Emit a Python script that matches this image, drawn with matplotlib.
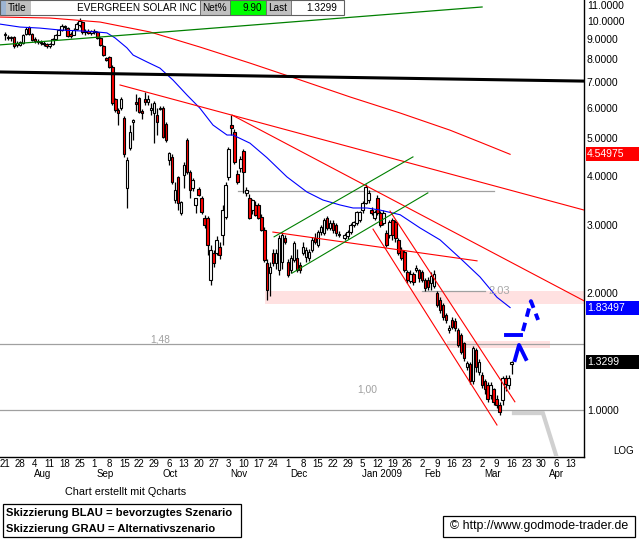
import numpy as np
import matplotlib
matplotlib.use('Agg')
import matplotlib.pyplot as plt
from matplotlib.patches import Rectangle
from matplotlib.transforms import IdentityTransform, blended_transform_factory

plt.rcParams['font.family'] = ['Liberation Sans', 'DejaVu Sans']
nan = np.nan

# ---------------- data (daily candles, index = weekday number from Mon 21 Jul 2008) ----------------
opens = [
9.20, 9.10, 9.05, 9.10, 8.70, 8.70, 8.80, 9.30, 9.65, 9.30,
9.00, 8.90, 8.85, 8.80, 8.75, 8.65, 8.75, 9.00, 9.25, 9.50,
9.70, 9.60, 9.30, 9.25, 9.55, 9.80, 9.95, 9.40, 9.45, 9.35,
9.45, 9.40, 9.05, 8.65, 8.05, 8.10, 7.63, 6.30, 5.90, 5.98,
5.64, 3.72, 4.72, 5.50, 6.20, 6.35, 5.88, 6.30, 6.22, 5.92,
5.81, 5.74, 5.95, 5.98, 5.45, 4.40, 4.48, 3.47, 3.98, 3.21,
4.03, 4.95, 4.10, 3.72, 3.37, 3.70, 3.51, 3.12, 3.12, 2.16,
2.53, 2.53, 2.63, 2.82, 3.13, 3.98, 5.41, 5.20, 4.05, 4.20,
4.63, 3.62, 3.51, 3.27, 3.37, 3.37, 3.14, 2.90, 2.39, 2.25,
2.53, 2.39, 2.29, 2.40, 2.77, 2.40, 2.29, 2.43, 2.46, 2.36,
2.53, 2.48, 2.46, 2.58, 2.77, 2.66, 2.87, 2.85, 3.12, 2.94,
3.03, 2.99, 2.82, nan, 2.77, 2.80, 2.87, 2.99, 3.03, 3.08,
3.27, 3.41, 3.47, 3.27, 3.12, 3.51, 3.21, 3.03, 2.85, 2.82,
3.08, 3.05, 2.74, 2.58, 2.55, 2.26, 2.15, 2.24, 2.29, 2.29,
2.26, 2.16, 2.16, 2.12, 2.08, 2.00, 1.92, 1.86, 1.76, 1.61,
1.70, 1.69, 1.61, 1.56, 1.49, 1.29, 1.31, 1.19, 1.43, 1.25,
1.23, 1.19, 1.16, 1.09, 1.13, 1.07, 1.03, 1.06, 1.21, 1.16,
1.31]
highs = [
9.40, 9.20, 9.15, 9.15, 8.90, 8.90, 9.30, 9.65, 9.75, 9.35,
9.10, 9.00, 8.95, 8.90, 8.80, 8.80, 9.05, 9.30, 9.55, 9.85,
9.80, 9.65, 9.40, 9.60, 9.95, 10.20, 10.05, 9.55, 9.55, 9.50,
9.55, 9.45, 9.10, 8.70, 8.10, 8.15, 7.70, 6.35, 6.00, 6.40,
5.70, 4.48, 5.41, 5.60, 6.50, 6.40, 5.95, 6.60, 6.45, 6.16,
6.25, 6.00, 6.05, 6.05, 5.50, 4.62, 4.55, 3.86, 4.00, 3.45,
4.35, 5.00, 4.15, 3.95, 3.52, 3.75, 3.55, 3.18, 3.15, 2.66,
2.58, 2.80, 2.70, 3.37, 3.85, 4.75, 5.73, 5.30, 4.15, 4.50,
4.70, 3.75, 3.60, 3.50, 3.45, 3.40, 3.20, 2.95, 2.45, 2.40,
2.60, 2.60, 2.82, 2.87, 2.82, 2.45, 2.50, 2.72, 2.60, 2.40,
2.70, 2.62, 2.60, 2.78, 2.85, 2.90, 3.00, 3.12, 3.16, 3.08,
3.08, 3.02, 2.88, nan, 2.85, 2.90, 3.02, 3.06, 3.26, 3.26,
3.45, 3.82, 3.68, 3.33, 3.27, 3.57, 3.25, 3.27, 2.90, 3.08,
3.12, 3.08, 2.77, 2.62, 2.58, 2.29, 2.29, 2.27, 2.36, 2.31,
2.29, 2.19, 2.20, 2.26, 2.29, 2.02, 1.95, 1.88, 1.78, 1.65,
1.73, 1.72, 1.63, 1.58, 1.50, 1.34, 1.33, 1.46, 1.44, 1.35,
1.25, 1.20, 1.18, 1.18, 1.14, 1.09, 1.05, 1.22, 1.23, 1.23,
1.34]
lows = [
8.95, 8.95, 8.90, 8.55, 8.60, 8.65, 8.75, 9.20, 9.20, 8.90,
8.80, 8.75, 8.70, 8.65, 8.55, 8.55, 8.70, 8.95, 9.20, 9.45,
9.50, 9.10, 9.05, 9.20, 9.50, 9.70, 9.30, 9.25, 9.30, 9.25,
9.30, 9.00, 8.65, 8.15, 7.90, 7.60, 6.10, 5.85, 5.40, 5.90,
4.48, 3.30, 4.67, 4.95, 5.88, 5.80, 5.60, 6.10, 6.10, 5.74,
4.87, 5.10, 5.90, 5.00, 4.90, 4.27, 3.82, 3.41, 3.27, 3.18,
3.72, 4.05, 3.51, 3.65, 3.21, 3.55, 3.20, 2.94, 2.50, 2.10,
2.33, 2.50, 2.45, 2.66, 3.10, 3.90, 5.10, 4.30, 3.82, 4.10,
3.62, 3.55, 3.10, 3.20, 3.15, 3.10, 2.88, 2.40, 1.92, 1.97,
2.35, 2.30, 2.22, 2.30, 2.68, 2.20, 2.25, 2.40, 2.27, 2.25,
2.50, 2.40, 2.42, 2.55, 2.68, 2.62, 2.82, 2.82, 2.90, 2.90,
2.85, 2.80, 2.78, nan, 2.74, 2.76, 2.84, 2.95, 3.00, 3.05,
3.22, 3.38, 3.41, 3.18, 3.08, 3.18, 2.95, 3.00, 2.63, 2.77,
2.74, 2.70, 2.50, 2.43, 2.27, 2.12, 2.12, 2.10, 2.26, 2.14,
2.13, 2.03, 2.04, 2.04, 2.06, 1.84, 1.78, 1.70, 1.67, 1.58,
1.62, 1.60, 1.45, 1.39, 1.34, 1.27, 1.17, 1.17, 1.25, 1.23,
1.14, 1.10, 1.05, 1.07, 1.03, 1.01, 0.97, 1.03, 1.12, 1.13,
1.24]
closes = [
9.25, 9.05, 9.10, 8.65, 8.80, 8.85, 9.25, 9.55, 9.28, 8.95,
8.90, 8.85, 8.80, 8.75, 8.65, 8.75, 9.00, 9.25, 9.50, 9.75,
9.75, 9.15, 9.15, 9.50, 9.85, 10.05, 9.40, 9.45, 9.35, 9.45,
9.40, 9.05, 8.70, 8.20, 7.95, 7.65, 6.16, 5.92, 5.82, 6.30,
4.56, 4.40, 5.20, 5.57, 6.14, 5.85, 5.80, 6.20, 6.30, 5.98,
6.16, 5.51, 6.00, 5.04, 4.95, 4.58, 3.86, 3.68, 3.41, 3.43,
4.27, 4.10, 3.68, 3.91, 3.51, 3.57, 3.24, 2.99, 2.66, 2.58,
2.39, 2.74, 2.50, 3.27, 3.79, 4.70, 5.32, 4.35, 3.86, 4.42,
4.10, 3.68, 3.12, 3.47, 3.18, 3.12, 2.90, 2.43, 2.04, 2.33,
2.39, 2.53, 2.77, 2.82, 2.70, 2.22, 2.46, 2.69, 2.29, 2.29,
2.63, 2.58, 2.55, 2.74, 2.70, 2.87, 2.95, 3.08, 2.94, 3.03,
2.90, 2.85, 2.84, nan, 2.82, 2.87, 2.99, 3.04, 3.23, 3.23,
3.41, 3.74, 3.62, 3.21, 3.23, 3.21, 2.99, 3.21, 2.66, 3.05,
2.82, 2.77, 2.53, 2.46, 2.29, 2.16, 2.24, 2.14, 2.32, 2.19,
2.16, 2.06, 2.07, 2.21, 2.24, 1.86, 1.81, 1.73, 1.70, 1.63,
1.64, 1.63, 1.47, 1.41, 1.36, 1.32, 1.19, 1.44, 1.29, 1.33,
1.16, 1.13, 1.07, 1.16, 1.05, 1.03, 0.99, 1.21, 1.17, 1.21,
1.33]

# moving averages (day index, value)
ma_blue_k = [-1.7, 5.0, 11.7, 18.5, 25.2, 30.9, 34.2, 36.9, 40.9, 43.0, 47.7, 52.0, 56.4, 61.1,
             65.4, 69.8, 74.5, 76.5, 82.2, 87.9, 94.6, 101.3, 106.7, 112.4, 116.8, 121.5,
             125.8, 132.6, 139.3, 146.0, 152.7, 159.4, 165.1, 169.5]
ma_blue_v = [9.84, 9.67, 9.61, 9.50, 9.45, 9.39, 9.34, 9.07, 8.55, 8.19, 7.86, 7.58, 7.06, 6.46,
             5.98, 5.41, 5.10, 5.10, 4.86, 4.46, 3.98, 3.64, 3.47, 3.37, 3.31, 3.31,
             3.27, 3.18, 2.94, 2.74, 2.46, 2.20, 1.95, 1.83497]
ma_red_k = [-1.7, 15.1, 31.9, 48.7, 65.4, 82.2, 99.0, 115.8, 132.6, 149.3, 159.4, 169.5]
ma_red_v = [10.26, 10.20, 9.96, 9.39, 8.59, 7.81, 7.07, 6.39, 5.81, 5.25, 4.89, 4.54975]

# trend lines: (k0, v0, k1, v1)
black_line = (-1.7, 7.41, 194.3, 7.02)
green_long = (-1.7, 8.70, 160.1, 10.89)
red_trends = [(38.6, 6.86, 194.3, 3.27),
              (76.2, 5.74, 194.3, 1.91),
              (89.9, 2.87, 158.4, 2.42),
              (129.2, 3.25, 171.1, 1.05),
              (123.5, 2.92, 165.1, 0.915)]
green_channel = [(90.3, 2.79, 136.9, 4.48),
                 (96.3, 2.25, 141.9, 3.62)]
gray_levels = [(78.2, 164.1, 3.65), (140.0, 161.0, 2.03)]
full_levels = [1.48, 1.00]
pink_zones = [(87.2, 194.3, 1.87, 2.02), (148.3, 182.9, 1.444, 1.505)]

blue_hat_k = [171.1, 172.5, 174.8]
blue_hat_v = [1.345, 1.47, 1.353]
blue_path_k = [168.1, 173.2]
blue_path_v = [1.559, 1.559]
blue_dash_k = [173.8, 176.5, 178.9]
blue_dash_v = [1.597, 1.906, 1.705]
gray_scn_k = [170.8, 180.5, 184.9]
gray_scn_v = [0.982, 0.982, 0.766]

week_labels = ['21', '28', '4', '11', '18', '25', '1', '8', '15', '22', '29', '6', '13', '20', '27',
               '3', '10', '17', '24', '1', '8', '15', '22', '29', '5', '12', '19', '26',
               '2', '9', '16', '23', '2', '9', '16', '23', '30', '6', '13']
month_names = ['Aug', 'Sep', 'Oct', 'Nov', 'Dec', 'Jan 2009', 'Feb', 'Mar', 'Apr']
month_first_k = [9, 30, 52, 75, 95, 119, 140, 160, 182]
yticks_vals = [1, 2, 3, 4, 5, 6, 7, 8, 9, 10, 11]
last_marks = [(4.54975, '#FF0000', '4.54975'), (1.83497, '#0000FF', '1.83497'), (1.3299, '#000000', '1.3299')]

# ---------------- figure ----------------
W, H = 639, 539
fig = plt.figure(figsize=(W / 100, H / 100), dpi=100)
AXR, AXB = 584, 457
ax = fig.add_axes([0, 1 - AXB / H, AXR / W, AXB / H])
ax.set_yscale('log')
ax.set_xlim(-1.68, 194.3)
ax.set_ylim(0.757, 11.35)
for s in ['left', 'top']:
    ax.spines[s].set_visible(False)
ax.spines['right'].set_linewidth(1.0)
ax.spines['bottom'].set_linewidth(1.0)

# pink zones
for k0, k1, v0, v1 in pink_zones:
    ax.fill_between([k0, k1], v0, v1, color='#FFE1E1', lw=0, zorder=0)
# gray levels
for v in full_levels:
    ax.axhline(v, color='#A0A0A0', lw=0.9, zorder=1)
for k0, k1, v in gray_levels:
    ax.plot([k0, k1], [v, v], color='#A0A0A0', lw=0.9, zorder=1)

# candles
O = np.array(opens); Hh = np.array(highs); L = np.array(lows); C = np.array(closes)
x = np.arange(len(C))
ok = ~np.isnan(C)
ax.vlines(x[ok], L[ok], Hh[ok], color='black', lw=0.9, zorder=3)
up = ok & (C >= O)
dn = ok & (C < O)
hu = np.maximum(C[up] - O[up], 0.006 * O[up])
ax.bar(x[up], hu, bottom=O[up], width=0.84, color='white', edgecolor='black', lw=0.8, zorder=4)
ax.bar(x[dn], O[dn] - C[dn], bottom=C[dn], width=0.84, color='#FF0000', edgecolor='black', lw=0.8, zorder=4)

# lines
ax.plot(ma_blue_k, ma_blue_v, color='#0000FF', lw=0.8, zorder=5)
ax.plot(ma_red_k, ma_red_v, color='#FF0000', lw=0.8, zorder=5)
ax.plot(black_line[::2], black_line[1::2], color='black', lw=2.2, zorder=5)
ax.plot(green_long[::2], green_long[1::2], color='#008000', lw=0.9, zorder=5)
for t in red_trends:
    ax.plot(t[::2], t[1::2], color='#FF0000', lw=0.8, zorder=5)
for t in green_channel:
    ax.plot(t[::2], t[1::2], color='#008000', lw=0.8, zorder=5)

# scenarios
ax.plot(gray_scn_k, gray_scn_v, color='#D0D0D0', lw=3.0, zorder=5, solid_joinstyle='miter')
ax.plot(blue_hat_k, blue_hat_v, color='#0000FF', lw=2.8, zorder=6)
ax.plot(blue_path_k, blue_path_v, color='#0000FF', lw=2.8, zorder=6)
ax.plot(blue_dash_k, blue_dash_v, color='#0000FF', lw=2.8, zorder=6, ls=(0, (2.2, 1.6)))

# annotations
ax.text(52, 1.523, '1,48', color='#A0A0A0', fontsize=7.4, ha='center', va='center')
ax.text(121.5, 1.132, '1,00', color='#A0A0A0', fontsize=7.4, ha='center', va='center')
ax.text(166, 2.03, '2.03', color='#A8A8A8', fontsize=8, ha='center', va='center', zorder=7)

# axes ticks
ax.yaxis.tick_right()
ax.set_yticks(yticks_vals)
ax.set_yticklabels(['%.4f' % v for v in yticks_vals])
ax.yaxis.set_minor_locator(matplotlib.ticker.NullLocator())
ax.tick_params(axis='y', length=0, pad=2, labelsize=7.5)
ax.set_xticks([5 * i for i in range(len(week_labels))])
ax.set_xticklabels(week_labels)
ax.tick_params(axis='x', length=0, pad=1.5, labelsize=7.0)
bt = blended_transform_factory(ax.transData, ax.transAxes)
for name, k in zip(month_names, month_first_k):
    ax.text(k + 0.7, -17 / AXB, name, transform=bt, fontsize=7.0, ha='left', va='center')

# last value boxes on right axis
fig.canvas.draw()
for v, col, lab in last_marks:
    yd = ax.transData.transform((0, v))[1]
    r = Rectangle((586, yd - 7), 53, 14, transform=IdentityTransform(), facecolor=col,
                  edgecolor='none', zorder=10)
    fig.add_artist(r)
    fig.text(587 / W, yd / H, lab, color='white', fontsize=7.5, ha='left', va='center', zorder=11)

fig.text(634 / W, 1 - 451 / H, 'LOG', fontsize=7, ha='right', va='center')


def rect_px(x0, y0, x1, y1, fc, ec='none', lw=0.0, z=10):
    fig.add_artist(Rectangle((x0 / W, 1 - y1 / H), (x1 - x0) / W, (y1 - y0) / H,
                             transform=fig.transFigure, facecolor=fc, edgecolor=ec, lw=lw, zorder=z))


def txt_px(xp, yp, s, ha='left', **kw):
    fig.text(xp / W, 1 - yp / H, s, ha=ha, va='center', zorder=12, **kw)


# title bar
rect_px(0, 0, 6, 15, '#9DB4D2')
rect_px(6, 0, 31, 15, '#C0C0C0')
rect_px(31, 0, 200, 15, 'white')
rect_px(200, 0, 230, 15, '#C0C0C0')
rect_px(230, 0, 266, 15, '#00FF00')
rect_px(266, 0, 291, 15, '#C0C0C0')
rect_px(291, 0, 344, 15, 'white')
rect_px(0, 0, 344, 15, 'none', ec='#606060', lw=0.8, z=11)
for xs in [200, 230, 266, 291]:
    rect_px(xs, 0, xs + 0.01, 15, 'none', ec='#606060', lw=0.6, z=11)
txt_px(8, 8, 'Title', fontsize=7.2)
txt_px(197, 8, 'EVERGREEN SOLAR INC', ha='right', fontsize=7.2)
txt_px(202, 8, 'Net%', fontsize=7.2)
txt_px(262, 8, '9.90', ha='right', fontsize=7.2)
txt_px(268, 8, 'Last', fontsize=7.2)
txt_px(337, 8, '1.3299', ha='right', fontsize=7.2)

# footer
txt_px(126, 492, 'Chart erstellt mit Qcharts', ha='center', fontsize=7.8)
rect_px(3, 504, 241, 537, 'white', ec='black', lw=0.9)
txt_px(6, 513, 'Skizzierung BLAU = bevorzugtes Szenario', fontsize=8.1, fontweight='bold')
txt_px(6, 529, 'Skizzierung GRAU = Alternativszenario', fontsize=8.1, fontweight='bold')
rect_px(443, 516, 635, 537, 'white', ec='black', lw=0.9)
txt_px(539, 526.5, '\u00a9 http://www.godmode-trader.de', ha='center', fontsize=8.9)

fig.savefig('out.png', dpi=100)
